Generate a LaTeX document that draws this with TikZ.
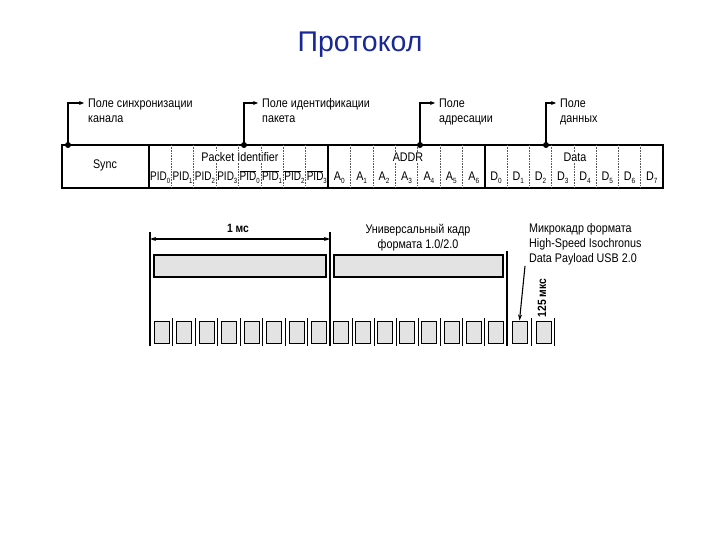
\documentclass[tikz,border=0pt]{standalone}
\usepackage{fontspec}
\setmainfont{Liberation Sans}
\newfontfamily\cond[FakeStretch=0.86]{Liberation Sans}
\newfontfamily\condd[FakeStretch=0.8]{Liberation Sans}
\usetikzlibrary{arrows.meta}
\definecolor{titleblue}{RGB}{25,40,150}
\newcommand\lsub[1]{\raisebox{-.45ex}{\fontsize{7.5}{7.5}\selectfont #1}}
\newcommand\ovl[1]{$\overline{\mbox{#1}}$}
\begin{document}
\begin{tikzpicture}[x=1pt,y=-1pt,
  lbl/.style={inner sep=0pt,font=\cond\fontsize{12.5}{15}\selectfont},
  cell/.style={inner sep=0pt,font=\cond\fontsize{12.5}{14}\selectfont},
  pcell/.style={inner sep=0pt,font=\condd\fontsize{12.5}{14}\selectfont},
  dotdiv/.style={densely dotted,gray!70!black,line width=0.6pt},
  frame/.style={draw,line width=1.1pt},
  ptr/.style={line width=1.1pt,-{Stealth[length=5pt,width=4pt]}},
  dotmark/.style={circle,fill,inner sep=0pt,minimum size=6pt},
  bigbar/.style={draw,line width=1.1pt,fill=gray!22},
  mini/.style={draw,line width=1pt,fill=gray!22}]
\useasboundingbox (0,0) rectangle (720,540);
% title
\node[font=\fontsize{28.5}{30}\selectfont,text=titleblue] (title) at (360,45) {Протокол};
% main bar
\draw[frame] (62,145) rectangle (663,188);
\draw[line width=1.8pt] (62,188) -- (663,188);
\foreach \x in {149,328,485} \draw[line width=1.1pt] (\x,145) -- (\x,188);
\foreach \k in {1,...,7} \draw[dotdiv] ({149+22.375*\k},145) -- ({149+22.375*\k},188);
\foreach \k in {1,...,6} \draw[dotdiv] ({328+22.43*\k},145) -- ({328+22.43*\k},188);
\foreach \k in {1,...,7} \draw[dotdiv] ({485+22.25*\k},145) -- ({485+22.25*\k},188);
\node[cell] (sync) at (105,165) {Sync};
\node[cell,fill=white,inner sep=1pt] (pidt) at (240,157) {Packet Identifier};
\node[cell,fill=white,inner sep=1pt] (addrt) at (408,157) {ADDR};
\node[cell,fill=white,inner sep=1pt] (datat) at (575,157) {Data};
\foreach \k in {0,...,3} \node[pcell] (p\k) at ({149+22.375*(\k+0.5)},178) {PID\lsub{\k}};
\foreach \k in {0,...,3} \node[pcell] (q\k) at ({149+22.375*(\k+4.5)},177) {\ovl{PID}\lsub{\k}};
\foreach \k in {0,...,6} \node[cell] (a\k) at ({328+22.43*(\k+0.5)},178) {A\lsub{\k}};
\foreach \k in {0,...,7} \node[cell] (d\k) at ({485+22.25*(\k+0.5)},178) {D\lsub{\k}};
% pointers
\foreach \n/\x/\t/\la/\lb in {s/68/84/{Поле синхронизации}/{канала},
                          p/244/258/{Поле идентификации}/{пакета},
                          a/420/435/{Поле}/{адресации},
                          d/546/556/{Поле}/{данных}}{
  \node[dotmark] (dot\n) at (\x,145) {};
  \coordinate (tip\n) at (\t,103);
  \draw[ptr] (dot\n.center) |- (tip\n);
  \node[lbl,anchor=base west] (txt\n) at ([xshift=4pt,yshift=-4.5pt]tip\n) {\la};
  \node[lbl,anchor=base west] (txu\n) at ([xshift=4pt,yshift=-19.5pt]tip\n) {\lb};
}
% lower part
\coordinate (v1t) at (150,232); \coordinate (v1b) at (150,346);
\coordinate (v2t) at (330,232); \coordinate (v2b) at (330,346);
\coordinate (v3t) at (507,251); \coordinate (v3b) at (507,346);
\draw[line width=1.1pt] (v1t) -- (v1b);
\draw[line width=1.1pt] (v2t) -- (v2b);
\draw[line width=1.1pt] (v3t) -- (v3b);
\coordinate (dimL) at (150,239); \coordinate (dimR) at (330,239);
\draw[line width=1.1pt,{Stealth[length=6pt,width=4pt]}-{Stealth[length=6pt,width=4pt]}] (dimL) -- (dimR);
\node[lbl,font=\cond\bfseries\fontsize{12}{13}\selectfont] (ms) at (238,228) {1 мс};
\node[bigbar,minimum width=172pt,minimum height=22pt,inner sep=0pt] (bar1) at (240,266) {};
\node[bigbar,minimum width=169pt,minimum height=22pt,inner sep=0pt] (bar2) at (418.5,266) {};
\foreach \k in {0,...,7} {
  \node[mini,minimum width=15pt,minimum height=22pt,inner sep=0pt] (m\k) at ({161.5+22.5*\k},332) {};
}
\foreach \k in {1,...,7} \draw[line width=1pt] ({150+22.5*\k},318) -- ({150+22.5*\k},346);
\foreach \k in {0,...,7} {
  \node[mini,minimum width=15pt,minimum height=22pt,inner sep=0pt] (n\k) at ({341+22.1*\k},332) {};
}
\foreach \k in {1,...,7} \draw[line width=1pt] ({330+22.1*\k},318) -- ({330+22.1*\k},346);
\node[mini,minimum width=15pt,minimum height=22pt,inner sep=0pt] (u1) at (519.5,332) {};
\node[mini,minimum width=15pt,minimum height=22pt,inner sep=0pt] (u2) at (543.5,332) {};
\draw[line width=1pt] (531.5,318) -- (531.5,346);
\draw[line width=1pt] (554,318) -- (554,346);
\node[lbl,anchor=base] (univ1) at (418,233.5) {Универсальный кадр};
\node[lbl,anchor=base] (univ2) at (418,248.5) {формата 1.0/2.0};
\node[lbl,anchor=base west] (micro1) at (529,232.5) {Микрокадр формата};
\node[lbl,anchor=base west] (micro2) at (529,247.5) {High-Speed Isochronus};
\node[lbl,anchor=base west] (micro3) at (529,262.5) {Data Payload USB 2.0};
\coordinate (arrS) at (525,266);
\draw[line width=1.1pt,-{Stealth[length=6pt,width=4pt]}] (arrS) -- (u1.north);
\node[lbl,rotate=90,font=\cond\bfseries\fontsize{12}{13}\selectfont] (us) at (542,298) {125 мкс};
\end{tikzpicture}
\end{document}
